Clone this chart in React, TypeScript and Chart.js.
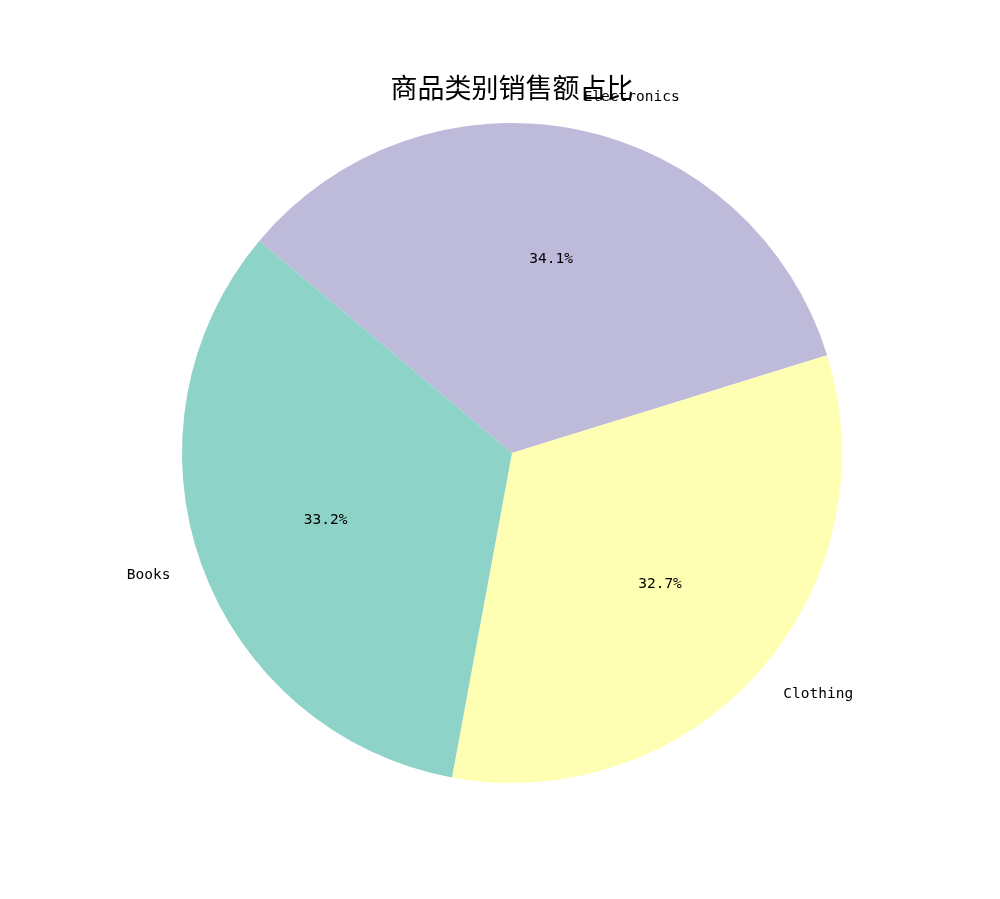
import React, { useEffect, useRef } from "react";
import { Chart, registerables } from "chart.js";

Chart.register(...registerables);

// drawn clockwise in Chart.js, so the order is reversed from the original counter-clockwise pie
const categories = ["Electronics", "Clothing", "Books"];
const shares = [34.1, 32.7, 33.2];
const colors = ["#BEBADA", "#FFFFB3", "#8DD3C7"];
const title = "商品类别销售额占比";

const labelFont = "14.5px 'DejaVu Sans Mono', monospace";

const pieLabels = {
  id: "pieLabels",
  afterDatasetsDraw(chart: any) {
    const ctx = chart.ctx;
    const meta = chart.getDatasetMeta(0);
    ctx.save();
    ctx.fillStyle = "#000";
    ctx.font = labelFont;
    meta.data.forEach((arc: any, i: number) => {
      const mid = (arc.startAngle + arc.endAngle) / 2;
      const r = arc.outerRadius;
      // percentage inside
      const px = arc.x + Math.cos(mid) * r * 0.6;
      const py = arc.y + Math.sin(mid) * r * 0.6;
      ctx.textAlign = "center";
      ctx.textBaseline = "middle";
      ctx.fillText(shares[i].toFixed(1) + "%", px, py);
      // category outside
      const lx = arc.x + Math.cos(mid) * r * 1.1;
      const ly = arc.y + Math.sin(mid) * r * 1.1;
      ctx.textAlign = lx < arc.x ? "right" : "left";
      ctx.fillText(categories[i], lx, ly);
    });
    ctx.font = "27px 'Noto Sans CJK SC', sans-serif";
    ctx.textAlign = "center";
    ctx.textBaseline = "middle";
    ctx.fillText(title, 512, 88);
    ctx.restore();
  },
};

export default function App() {
  const canvasRef = useRef<HTMLCanvasElement | null>(null);
  const chartRef = useRef<any>(null);

  useEffect(() => {
    if (!canvasRef.current) return;
    if (chartRef.current) chartRef.current.destroy();

    chartRef.current = new Chart(canvasRef.current, {
      type: "pie",
      data: {
        labels: categories,
        datasets: [
          {
            data: shares,
            backgroundColor: colors,
            borderWidth: 0,
          },
        ],
      },
      options: {
        responsive: false,
        animation: false,
        rotation: -50,
        layout: { padding: { left: 182, right: 158, top: 123, bottom: 116 } },
        plugins: {
          legend: { display: false },
          title: { display: false },
          tooltip: { enabled: false },
        },
      },
      plugins: [pieLabels],
    });

    return () => {
      if (chartRef.current) {
        chartRef.current.destroy();
        chartRef.current = null;
      }
    };
  }, []);

  return (
    <div style={{ position: "absolute", left: 0, top: 0, width: 1000, height: 899, background: "#fff" }}>
      <canvas ref={canvasRef} width={1000} height={899}></canvas>
    </div>
  );
}
